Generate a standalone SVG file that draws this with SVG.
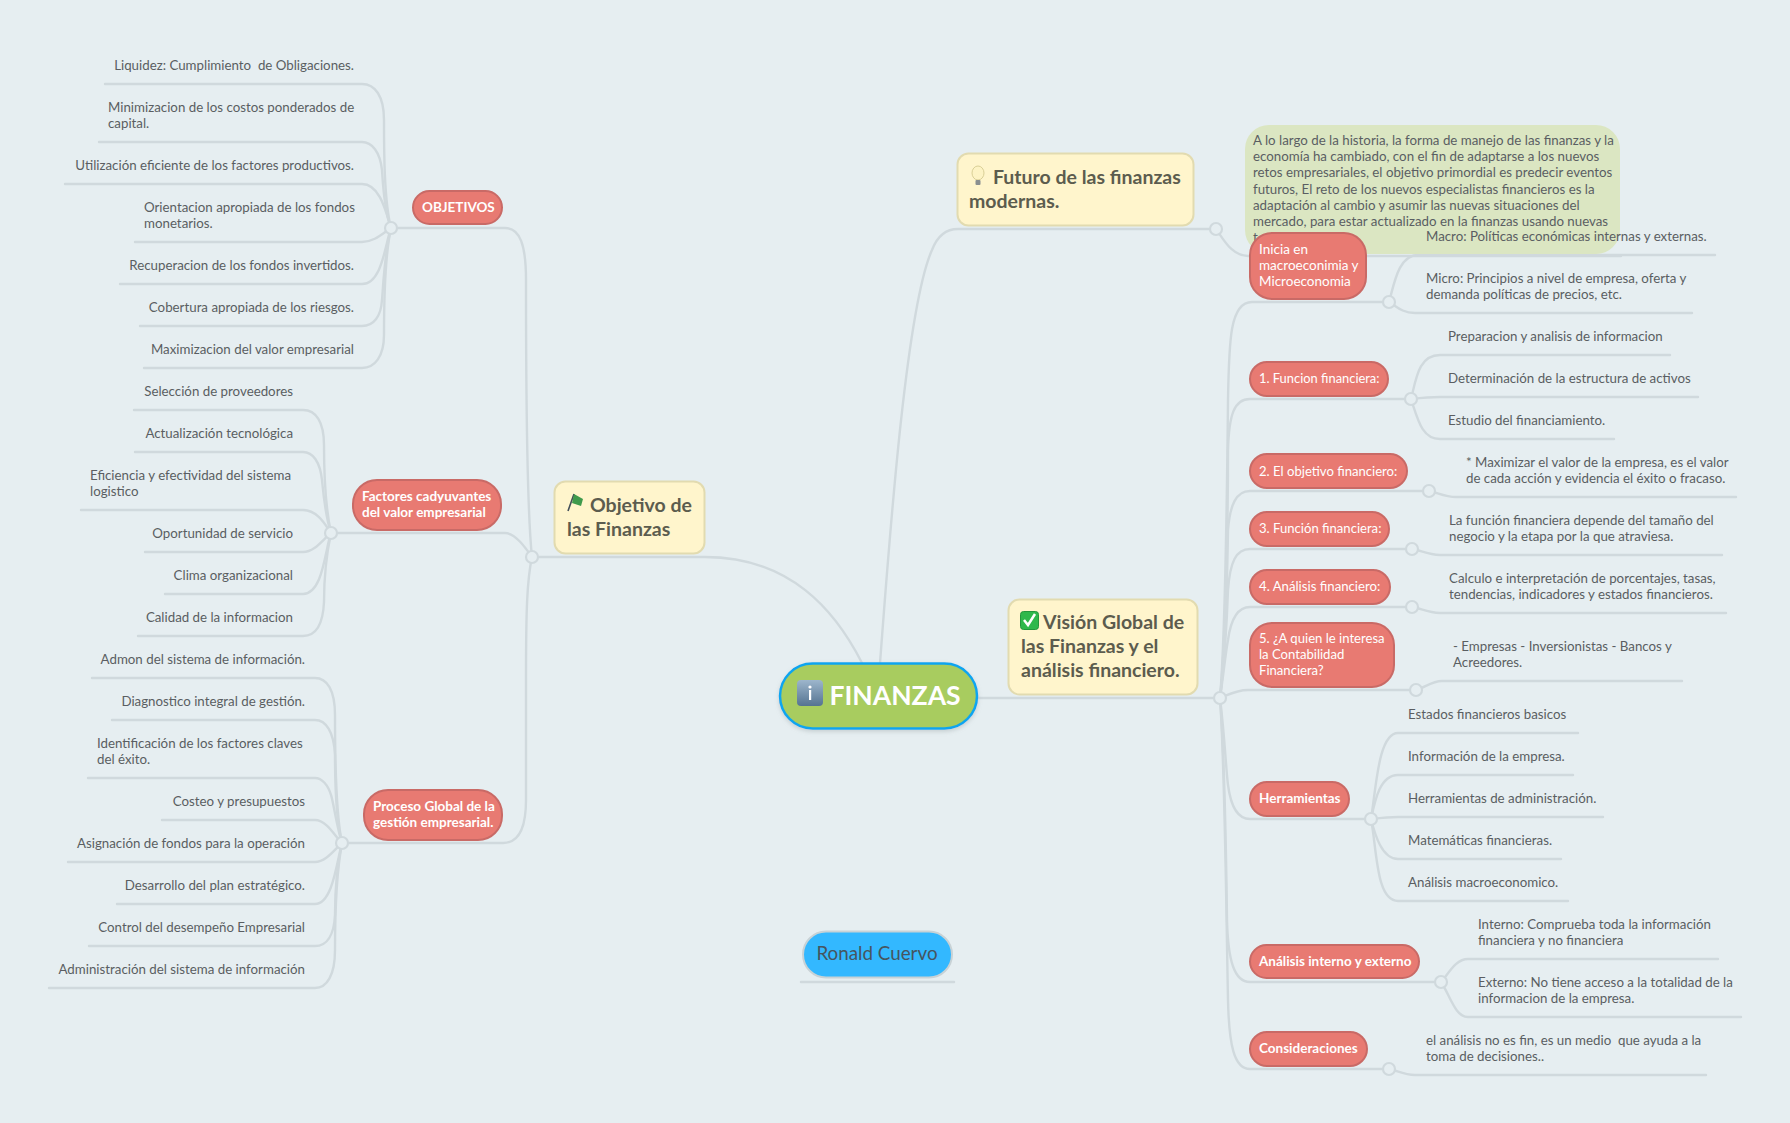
<svg xmlns="http://www.w3.org/2000/svg" width="1790" height="1123" viewBox="0 0 1790 1123">
<defs>
<style>
text{font-family:"Lato","Liberation Sans",sans-serif;white-space:pre}
.c path{fill:none;stroke:#d0d9dd;stroke-width:2.4;stroke-linecap:round}
.c circle{fill:#e6eef1;stroke:#d0d9dd;stroke-width:2.2}
.t{font-size:13.3px;fill:#5a5e62}
.e{text-anchor:end}
.r rect{fill:#e87a72;stroke:#c96a66;stroke-width:2}
.w{font-size:13.5px;fill:#fff}
.b{font-weight:700;font-size:13.5px}
.y rect{fill:#fff5cc;stroke:#e2dbb0;stroke-width:2}
.h{font-size:19.5px;font-weight:700;fill:#5c5c4e}
</style>
<filter id="s" x="-10%" y="-20%" width="120%" height="150%"><feDropShadow dx="0" dy="2" stdDeviation="2" flood-color="#8a9499" flood-opacity=".35"/></filter>
<linearGradient id="i" x1="0" y1="0" x2="0" y2="1"><stop offset="0" stop-color="#9db6cc"/><stop offset="1" stop-color="#557391"/></linearGradient>
</defs>
<rect width="1790" height="1123" fill="#e6eef1"/>
<g id="connectors" class="c">
<path d="M862 663C835 610 790 557 705 557L532 557"/>
<path d="M880 663C888 560 905 310 932 250Q940 229 958 229L1216 229"/>
<path d="M978 698L1220 698"/>
<path d="M1216 229C1224 240 1232 256 1248 256L1621 256"/>
<path d="M532 557C528 520 526 400 526 280C526 245 520 228 505 228L391 228"/>
<path d="M532 557C525 547 515 533 505 533L331 533"/>
<path d="M532 557C527 580 526 610 526 680L526 800C526 830 518 843 503 843L342 843"/>
<path d="M391 228C384 200 384 150 384 120C384 96 375 84 362 84L105 84"/>
<path d="M391 228C384 210 383 185 382 170C380 152 372 142 362 142L99 142"/>
<path d="M391 228C386 212 380 184 362 184L65 184"/>
<path d="M391 228C382 234 374 242 362 242L135 242"/>
<path d="M391 228C385 245 382 284 362 284L120 284"/>
<path d="M391 228C384 256 383 290 382 300C381 316 374 326 362 326L140 326"/>
<path d="M391 228C384 260 384 310 384 335C384 356 375 368 362 368L144 368"/>
<path d="M331 533C325 505 324 470 324 445C324 422 316 410 303 410L134 410"/>
<path d="M331 533C325 515 323 490 322 480C320 462 313 452 303 452L135 452"/>
<path d="M331 533C326 526 318 510 303 510L81 510"/>
<path d="M331 533C323 539 315 552 303 552L145 552"/>
<path d="M331 533C325 550 323 594 303 594L165 594"/>
<path d="M331 533C325 561 324 590 324 602C323 624 316 636 303 636L138 636"/>
<path d="M342 843C336 815 335 770 335 715C335 690 327 678 315 678L92 678"/>
<path d="M342 843C336 820 335 790 335 755C334 732 326 720 315 720L112 720"/>
<path d="M342 843C337 828 333 800 331 795C328 785 322 778 315 778L88 778"/>
<path d="M342 843C336 838 327 820 315 820L162 820"/>
<path d="M342 843C334 850 326 862 315 862L68 862"/>
<path d="M342 843C337 860 333 904 315 904L117 904"/>
<path d="M342 843C336 870 335 900 335 915C334 935 327 946 315 946L89 946"/>
<path d="M342 843C336 875 335 920 335 950C335 975 327 988 315 988L49 988"/>
<path d="M1220 698C1225 640 1227 500 1228 400C1229 340 1230 302 1252 302L1389 302"/>
<path d="M1220 698C1225 650 1228 540 1228 450C1229 415 1234 399 1250 399L1411 399"/>
<path d="M1220 698C1225 660 1227 590 1228 530C1230 505 1236 491 1250 491L1429 491"/>
<path d="M1220 698C1224 665 1227 620 1228 590C1230 562 1236 549 1250 549L1412 549"/>
<path d="M1220 698C1224 670 1226 650 1228 640C1231 618 1238 607 1250 607L1412 607"/>
<path d="M1220 698C1228 695 1236 690 1248 690L1416 690"/>
<path d="M1220 698C1225 740 1226 770 1228 785C1231 808 1238 819 1250 819L1371 819"/>
<path d="M1220 698C1225 760 1226 850 1227 920C1228 960 1234 982 1250 982L1441 982"/>
<path d="M1220 698C1225 770 1226 900 1228 1000C1229 1045 1234 1069 1250 1069L1389 1069"/>
<path d="M1389 302C1394 285 1398 255 1418 255L1715 255"/>
<path d="M1389 302C1396 306 1402 313 1415 313L1692 313"/>
<path d="M1411 399C1416 380 1418 355 1440 355L1670 355"/>
<path d="M1411 399C1420 398 1430 397 1440 397L1698 397"/>
<path d="M1411 399C1418 420 1422 439 1440 439L1614 439"/>
<path d="M1429 491C1436 492 1445 497 1456 497L1736 497"/>
<path d="M1412 549C1420 550 1428 555 1440 555L1722 555"/>
<path d="M1412 607C1420 608 1428 613 1440 613L1726 613"/>
<path d="M1416 690C1424 688 1432 681 1442 681L1682 681"/>
<path d="M1371 819C1376 790 1378 733 1398 733L1578 733"/>
<path d="M1371 819C1375 800 1380 775 1398 775L1573 775"/>
<path d="M1371 819C1380 818 1390 817 1398 817L1603 817"/>
<path d="M1371 819C1375 835 1382 859 1398 859L1561 859"/>
<path d="M1371 819C1377 850 1376 901 1398 901L1568 901"/>
<path d="M1441 982C1448 975 1455 959 1468 959L1718 959"/>
<path d="M1441 982C1450 995 1455 1017 1468 1017L1741 1017"/>
<path d="M1389 1069C1396 1070 1404 1075 1415 1075L1706 1075"/>
<path d="M801 982L954 982"/>
<circle cx="532" cy="557" r="6"/><circle cx="391" cy="228" r="6"/><circle cx="331" cy="533" r="6"/><circle cx="342" cy="843" r="6"/>
<circle cx="1216" cy="229" r="6"/><circle cx="1220" cy="698" r="6"/><circle cx="1389" cy="302" r="6"/><circle cx="1411" cy="399" r="6"/>
<circle cx="1429" cy="491" r="6"/><circle cx="1412" cy="549" r="6"/><circle cx="1412" cy="607" r="6"/><circle cx="1416" cy="690" r="6"/>
<circle cx="1371" cy="819" r="6"/><circle cx="1441" cy="982" r="6"/><circle cx="1389" cy="1069" r="6"/>
</g>
<g id="root">
<rect x="780" y="663.500" width="197" height="65" rx="32.500" fill="#a8cc5e" stroke="#0ea5f0" stroke-width="2.500" filter="url(#s)"/>
<rect x="797" y="680" width="26" height="26" rx="4" fill="url(#i)"/><circle cx="810" cy="687" r="1.600" fill="#fff"/><rect x="809" y="690" width="2.200" height="10" fill="#fff"/>
<text x="829.500" y="705" font-size="26.500" font-weight="700" fill="#fff">FINANZAS</text>
</g>
<g id="ronald">
<rect x="803" y="931.500" width="149" height="46" rx="23" fill="#33b8ff" stroke="#c8d2d6" stroke-width="2"/>
<text x="877" y="960" font-size="18.800" text-anchor="middle" fill="#46555f">Ronald Cuervo</text>
</g>
<g id="objetivo" class="y">
<rect x="554.500" y="481.500" width="150" height="72" rx="11"/>
<path d="M568 511L574 494" stroke="#44505a" stroke-width="1.600" fill="none"/><path d="M574 494L583 499L581 506L572 503Z" fill="#3f9a4c"/>
<text class="h" x="590" y="512">Objetivo de</text><text class="h" x="567" y="536">las Finanzas</text>
</g>
<g id="futuro" class="y">
<rect x="957.500" y="153.500" width="236" height="72" rx="11"/>
<ellipse cx="978" cy="173" rx="6" ry="7" fill="#fdf3c4" stroke="#d9cf96"/><rect x="975.500" y="180" width="5" height="5" rx="1" style="fill:#8a8f90;stroke:none"/>
<text class="h" x="993" y="184">Futuro de las finanzas</text><text class="h" x="969" y="208">modernas.</text>
</g>
<g id="vision" class="y">
<rect x="1008.500" y="599.500" width="189" height="95" rx="11"/>
<rect x="1020.500" y="611.500" width="18" height="18" rx="3" style="fill:#2eb84b;stroke:#23963c;stroke-width:1"/><path d="M1024 620L1028 625L1035 614" fill="none" stroke="#fff" stroke-width="2.500"/>
<text class="h" x="1043" y="629">Visión Global de</text><text class="h" x="1021" y="653">las Finanzas y el</text><text class="h" x="1021" y="677">análisis financiero.</text>
</g>
<g id="nota">
<rect x="1245" y="125" width="375" height="129" rx="24" fill="#dbe6c2"/>
<text class="t"><tspan x="1253" y="145">A lo largo de la historia, la forma de manejo de las finanzas y la</tspan><tspan x="1253" y="161">economía ha cambiado, con el fin de adaptarse a los nuevos</tspan><tspan x="1253" y="177">retos empresariales, el objetivo primordial es predecir eventos</tspan><tspan x="1253" y="194">futuros, El reto de los nuevos especialistas financieros es la</tspan><tspan x="1253" y="210">adaptación al cambio y asumir las nuevas situaciones del</tspan><tspan x="1253" y="226">mercado, para estar actualizado en la finanzas usando nuevas</tspan><tspan x="1253" y="242">t</tspan></text>
</g>
<g id="objetivos" class="r"><rect x="413" y="191" width="89" height="33" rx="16.500"/><text class="w b" x="422" y="212">OBJETIVOS</text></g>
<g id="factores" class="r"><rect x="353" y="480" width="148" height="50" rx="24"/><text class="w b"><tspan x="362" y="501">Factores cadyuvantes</tspan><tspan x="362" y="517">del valor empresarial</tspan></text></g>
<g id="proceso" class="r"><rect x="364" y="790" width="138" height="50" rx="24"/><text class="w b"><tspan x="373" y="811">Proceso Global de la</tspan><tspan x="373" y="827">gestión empresarial.</tspan></text></g>
<g id="inicia" class="r"><rect x="1250" y="233" width="116" height="66" rx="22"/><text class="w"><tspan x="1259" y="254">Inicia en</tspan><tspan x="1259" y="270">macroeconimia y</tspan><tspan x="1259" y="286">Microeconomia</tspan></text></g>
<g id="funcion" class="r"><rect x="1250" y="362" width="138" height="34" rx="17"/><text class="w" style="font-size:12.9px" x="1259" y="383">1. Funcion financiera:</text></g>
<g id="objetivo-financiero" class="r"><rect x="1250" y="454" width="157" height="34" rx="17"/><text class="w" style="font-size:13.1px" x="1259" y="476">2. El objetivo financiero:</text></g>
<g id="funcion-financiera" class="r"><rect x="1250" y="512" width="139" height="34" rx="17"/><text class="w" style="font-size:13.1px" x="1259" y="533">3. Función financiera:</text></g>
<g id="analisis-financiero" class="r"><rect x="1250" y="570" width="140" height="34" rx="17"/><text class="w" style="font-size:13.2px" x="1259" y="591">4. Análisis financiero:</text></g>
<g id="contabilidad" class="r"><rect x="1250" y="623" width="144" height="64" rx="22"/><text class="w" style="font-size:13.1px"><tspan x="1259" y="643">5. ¿A quien le interesa</tspan><tspan x="1259" y="659">la Contabilidad</tspan><tspan x="1259" y="675">Financiera?</tspan></text></g>
<g id="herramientas" class="r"><rect x="1250" y="782" width="99" height="34" rx="17"/><text class="w b" x="1259" y="803">Herramientas</text></g>
<g id="analisis" class="r"><rect x="1250" y="945" width="169" height="33" rx="16.500"/><text class="w b" x="1259" y="966">Análisis interno y externo</text></g>
<g id="consideraciones" class="r"><rect x="1250" y="1032" width="117" height="34" rx="17"/><text class="w b" x="1259" y="1053">Consideraciones</text></g>
<g id="objetivos-items">
<text class="t e" x="354" y="70">Liquidez: Cumplimiento  de Obligaciones.</text>
<text class="t"><tspan x="108" y="112">Minimizacion de los costos ponderados de</tspan><tspan x="108" y="128">capital.</tspan></text>
<text class="t e" x="354" y="170">Utilización eficiente de los factores productivos.</text>
<text class="t"><tspan x="144" y="212">Orientacion apropiada de los fondos</tspan><tspan x="144" y="228">monetarios.</tspan></text>
<text class="t e" x="354" y="270">Recuperacion de los fondos invertidos.</text>
<text class="t e" x="354" y="312">Cobertura apropiada de los riesgos.</text>
<text class="t e" x="354" y="354">Maximizacion del valor empresarial</text>
</g>
<g id="factores-items">
<text class="t e" x="293" y="396">Selección de proveedores</text>
<text class="t e" x="293" y="438">Actualización tecnológica</text>
<text class="t"><tspan x="90" y="480">Eficiencia y efectividad del sistema</tspan><tspan x="90" y="496">logistico</tspan></text>
<text class="t e" x="293" y="538">Oportunidad de servicio</text>
<text class="t e" x="293" y="580">Clima organizacional</text>
<text class="t e" x="293" y="622">Calidad de la informacion</text>
</g>
<g id="proceso-items">
<text class="t e" x="305" y="664">Admon del sistema de información.</text>
<text class="t e" x="305" y="706">Diagnostico integral de gestión.</text>
<text class="t"><tspan x="97" y="748">Identificación de los factores claves</tspan><tspan x="97" y="764">del éxito.</tspan></text>
<text class="t e" x="305" y="806">Costeo y presupuestos</text>
<text class="t e" x="305" y="848">Asignación de fondos para la operación</text>
<text class="t e" x="305" y="890">Desarrollo del plan estratégico.</text>
<text class="t e" x="305" y="932">Control del desempeño Empresarial</text>
<text class="t e" x="305" y="974">Administración del sistema de información</text>
</g>
<g id="vision-items">
<text class="t" x="1426" y="241">Macro: Políticas económicas internas y externas.</text>
<text class="t"><tspan x="1426" y="283">Micro: Principios a nivel de empresa, oferta y</tspan><tspan x="1426" y="299">demanda políticas de precios, etc.</tspan></text>
<text class="t" x="1448" y="341">Preparacion y analisis de informacion</text>
<text class="t" x="1448" y="383">Determinación de la estructura de activos</text>
<text class="t" x="1448" y="425">Estudio del financiamiento.</text>
<text class="t"><tspan x="1466" y="467">* Maximizar el valor de la empresa, es el valor</tspan><tspan x="1466" y="483">de cada acción y evidencia el éxito o fracaso.</tspan></text>
<text class="t"><tspan x="1449" y="525">La función financiera depende del tamaño del</tspan><tspan x="1449" y="541">negocio y la etapa por la que atraviesa.</tspan></text>
<text class="t"><tspan x="1449" y="583">Calculo e interpretación de porcentajes, tasas,</tspan><tspan x="1449" y="599">tendencias, indicadores y estados financieros.</tspan></text>
<text class="t"><tspan x="1453" y="651">- Empresas - Inversionistas - Bancos y</tspan><tspan x="1453" y="667">Acreedores.</tspan></text>
<text class="t" x="1408" y="719">Estados financieros basicos</text>
<text class="t" x="1408" y="761">Información de la empresa.</text>
<text class="t" x="1408" y="803">Herramientas de administración.</text>
<text class="t" x="1408" y="845">Matemáticas financieras.</text>
<text class="t" x="1408" y="887">Análisis macroeconomico.</text>
<text class="t"><tspan x="1478" y="929">Interno: Comprueba toda la información</tspan><tspan x="1478" y="945">financiera y no financiera</tspan></text>
<text class="t"><tspan x="1478" y="987">Externo: No tiene acceso a la totalidad de la</tspan><tspan x="1478" y="1003">informacion de la empresa.</tspan></text>
<text class="t"><tspan x="1426" y="1045">el análisis no es fin, es un medio  que ayuda a la</tspan><tspan x="1426" y="1061">toma de decisiones..</tspan></text>
</g>
</svg>
